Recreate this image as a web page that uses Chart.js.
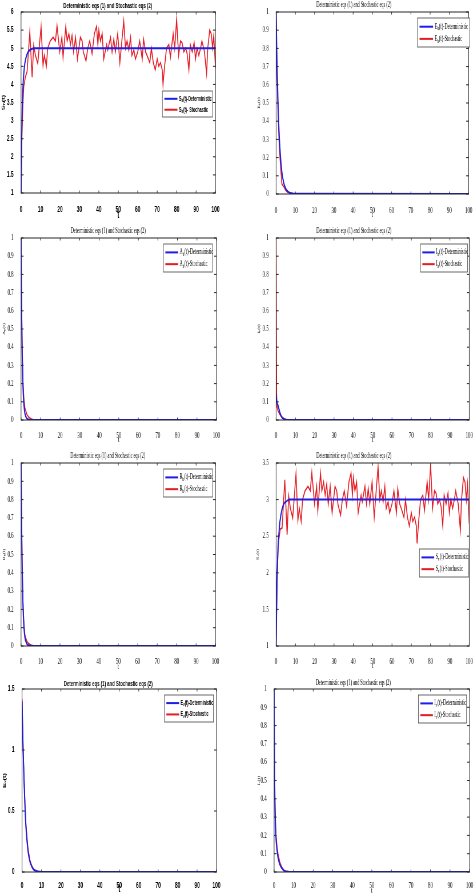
<!DOCTYPE html>
<html>
<head>
<meta charset="utf-8">
<script src="https://cdn.jsdelivr.net/npm/chart.js@4.4.1/dist/chart.umd.min.js"></script>
<style>
  body { margin: 0; background: #fff; width: 474px; height: 896px; overflow: hidden; position: relative; }
  .panel { position: absolute; transform-origin: 0 0; }
</style>
</head>
<body>
<div class="panel" id="p1"><canvas id="c1"></canvas></div>
<div class="panel" id="p2"><canvas id="c2"></canvas></div>
<div class="panel" id="p3"><canvas id="c3"></canvas></div>
<div class="panel" id="p4"><canvas id="c4"></canvas></div>
<div class="panel" id="p5"><canvas id="c5"></canvas></div>
<div class="panel" id="p6"><canvas id="c6"></canvas></div>
<div class="panel" id="p7"><canvas id="c7"></canvas></div>
<div class="panel" id="p8"><canvas id="c8"></canvas></div>
<script>
// time grids
var tGrid = [0, 0.25, 0.5, 1, 1.5, 2, 3, 4, 5, 6, 7, 8, 10, 100];
var tNoise = [0, 0.5, 1, 1.4, 2.2, 3.1, 4.5, 5.7, 6.5, 7.4, 8.6, 10.3, 11.3, 12, 13, 13.7, 15, 16.5, 17.7, 18.5,
  19.9, 21, 21.6, 23, 23.7, 24.6, 25.4, 26.2, 27, 28, 29, 30.5, 31.4, 32, 33.4, 34.3, 35.3, 36.5, 37.7, 38.8,
  39.5, 40, 40.8, 41.7, 42.5, 44, 44.6, 46, 46.8, 47.7, 48.5, 49.7, 50.8, 52, 52.8, 53.7, 54.5, 55.4, 56.3, 57,
  58, 58.8, 60, 61, 62.3, 63, 64, 64.8, 66.2, 67, 68, 69, 70, 70.8, 71.7, 72.6, 73, 73.8, 74.8, 76,
  76.8, 78.2, 79, 80, 81, 82, 82.8, 83.7, 84.6, 85.4, 86.3, 87, 88, 89, 89.7, 90.5, 91.4, 92.3, 93, 94.3,
  95.4, 96, 97, 97.8, 98.5, 99.1, 100];

// S_h
var shDet = [1, 2.2, 3.1, 3.95, 4.35, 4.6, 4.82, 4.92, 4.97, 4.99, 5, 5, 5, 5];
var shSto = [1, 2.7, 3.5, 3.94, 4.2, 4.35, 5.45, 4.2, 5.08, 4.8, 4.58, 5.59, 4.53, 4.8, 4.5, 5.0, 5.2, 5.3, 5.2, 5.62,
  4.9, 5.3, 4.75, 5.6, 5.2, 5.4, 5.1, 5.35, 4.9, 5.3, 4.7, 5.3, 5.2, 4.9, 4.65, 5.0, 5.2, 4.85, 5.4, 5.6,
  5.1, 5.5, 5.2, 5.4, 4.7, 5.1, 4.95, 5.3, 4.9, 5.25, 4.9, 5.4, 4.6, 5.3, 5.75, 5.0, 5.2, 4.95, 5.3, 4.8,
  4.95, 4.7, 4.9, 5.2, 4.7, 5.25, 4.9, 4.8, 4.6, 5.0, 4.6, 4.4, 4.7, 4.5, 4.6, 4.4, 4.0, 4.5, 5.0, 5.1,
  4.75, 5.4, 5.0, 5.8, 4.8, 5.2, 5.15, 4.9, 5.0, 4.85, 4.4, 5.1, 4.9, 5.15, 4.7, 5.0, 4.8, 5.0, 5.2, 4.9,
  4.3, 5.0, 5.5, 5.4, 5.0, 5.35, 4.45];
// E_h
var ehDet = [1, 0.84, 0.7, 0.5, 0.35, 0.25, 0.12, 0.06, 0.03, 0.015, 0.007, 0.004, 0.001, 0];
var ehSto = [1, 0.8, 0.64, 0.45, 0.3, 0.2, 0.055, 0.04, 0.02, 0.01, 0.005, 0.002, 0, 0];
// A_h
var ahDet = [1, 0.65, 0.42, 0.18, 0.08, 0.035, 0.008, 0.002, 0, 0, 0, 0, 0, 0];
var ahSto = [1, 0.68, 0.46, 0.21, 0.11, 0.065, 0.03, 0.015, 0.007, 0.002, 0, 0, 0, 0];
// I_h
var ihDet = [0.14, 0.11, 0.095, 0.08, 0.06, 0.04, 0.015, 0.005, 0.002, 0, 0, 0, 0, 0];
var ihSto = [1, 0.15, 0.07, 0.05, 0.04, 0.03, 0.015, 0.008, 0.003, 0.001, 0, 0, 0, 0];
// R_h
var rhDet = [1, 0.7, 0.48, 0.22, 0.1, 0.045, 0.012, 0.003, 0.001, 0, 0, 0, 0, 0];
var rhSto = [1, 0.72, 0.5, 0.24, 0.12, 0.06, 0.025, 0.012, 0.005, 0.002, 0, 0, 0, 0];
// S_v
var svDet = [1, 1.5, 1.9, 2.35, 2.55, 2.7, 2.86, 2.94, 2.97, 2.99, 3, 3, 3, 3];
var svSto = [1, 1.9, 2.3, 2.45, 2.6, 2.61, 3.27, 2.52, 3.05, 2.88, 2.75, 3.35, 2.72, 2.88, 2.7, 3.0, 3.12, 3.18, 3.12, 3.37,
  2.94, 3.18, 2.85, 3.36, 3.12, 3.24, 3.06, 3.21, 2.94, 3.18, 2.82, 3.18, 3.12, 2.94, 2.79, 3.0, 3.12, 2.91, 3.24, 3.36,
  3.06, 3.3, 3.12, 3.24, 2.82, 3.06, 2.97, 3.18, 2.94, 3.15, 2.94, 3.24, 2.76, 3.18, 3.45, 3.0, 3.12, 2.97, 3.18, 2.88,
  2.97, 2.82, 2.94, 3.12, 2.82, 3.15, 2.94, 2.88, 2.76, 3.0, 2.76, 2.64, 2.82, 2.7, 2.76, 2.64, 2.4, 2.7, 3.0, 3.06,
  2.85, 3.24, 3.0, 3.48, 2.88, 3.12, 3.09, 2.94, 3.0, 2.91, 2.64, 3.06, 2.94, 3.09, 2.82, 3.0, 2.88, 3.0, 3.12, 2.94,
  2.58, 3.0, 3.3, 3.24, 3.0, 3.21, 2.67];
// E_v
var evDet = [1.4, 1.2, 1.03, 0.76, 0.54, 0.37, 0.18, 0.09, 0.045, 0.02, 0.01, 0.005, 0.001, 0];
var evSto = [1.42, 1.22, 1.05, 0.78, 0.56, 0.39, 0.2, 0.1, 0.05, 0.022, 0.01, 0.004, 0, 0];
// I_v
var ivDet = [1, 0.55, 0.35, 0.18, 0.12, 0.08, 0.04, 0.02, 0.008, 0.003, 0.001, 0, 0, 0];
var ivSto = [1, 0.5, 0.3, 0.2, 0.14, 0.1, 0.05, 0.025, 0.01, 0.004, 0.002, 0, 0, 0];

var TITLE = 'Deterministic eqs (1) and Stochastic eqs (2)';
var SQ = 0.57; // the whole figure is squeezed horizontally
var COLW = 237;

var panels = [
  {id: 1, col: 0, top: 0, h: 225, box: [21, 12, 215, 193], sans: true, y: [1, 6, 0.5], name: 'S_h', yLab: 'Sₕ(t)',
   det: shDet, sto: shSto, tSto: tNoise, titleY: 6, yTitleX: 3.5, xTitleY: 215, xPad: 4, leg: [162, 91, 50, 26], stoSep: '- '},
  {id: 2, col: 1, top: 0, h: 225, box: [276, 12, 470, 194], sans: false, y: [0, 1, 0.1], name: 'E_h', yLab: 'Eₕ(t)',
   det: ehDet, sto: ehSto, tSto: tGrid, titleY: 5, yTitleX: 22, xTitleY: 215, xPad: 4, leg: [417, 18, 52, 29]},
  {id: 3, col: 0, top: 225, h: 225, box: [21, 238, 216, 420], sans: false, y: [0, 1, 0.1], name: 'A_h', yLab: 'Aₕ(t)',
   det: ahDet, sto: ahSto, tSto: tGrid, titleY: 231, yTitleX: 4.5, xTitleY: 440, xPad: 3, leg: [163, 244, 49, 28]},
  {id: 4, col: 1, top: 225, h: 225, box: [276, 238, 470, 420], sans: false, y: [0, 1, 0.1], name: 'I_h', yLab: 'Iₕ(t)',
   det: ihDet, sto: ihSto, tSto: tGrid, titleY: 231, yTitleX: 22, xTitleY: 440, xPad: 3, leg: [420, 244, 47, 28]},
  {id: 5, col: 0, top: 450, h: 225, box: [21, 463, 215, 646], sans: false, y: [0, 1, 0.1], name: 'R_h', yLab: 'Rₕ(t)',
   det: rhDet, sto: rhSto, tSto: tGrid, titleY: 456, yTitleX: 4.5, xTitleY: 667, xPad: 3, leg: [163, 469, 49, 28]},
  {id: 6, col: 1, top: 450, h: 225, box: [276, 463, 470, 646], sans: false, y: [1, 3.5, 0.5], name: 'S_v', yLab: 'Sᵥ(t)',
   det: svDet, sto: svSto, tSto: tNoise, titleY: 456, yTitleX: 21, xTitleY: 666, xPad: 3, leg: [419, 549, 49, 28]},
  {id: 7, col: 0, top: 675, h: 221, box: [22, 689, 216, 872], sans: true, y: [0, 1.5, 0.5], name: 'E_v', yLab: 'Eᵥ(t)',
   det: evDet, sto: evSto, tSto: tGrid, titleY: 684, yTitleX: 4.5, xTitleY: 893, xPad: 1, leg: [164, 695, 49, 27]},
  {id: 8, col: 1, top: 675, h: 221, box: [274, 689, 469, 872], sans: false, y: [0, 1, 0.1], name: 'I_v', yLab: 'Iᵥ(t)',
   det: ivDet, sto: ivSto, tSto: tGrid, titleY: 683, yTitleX: 22, xTitleY: 892, xPad: 1, leg: [418, 695, 48, 28]}
];

function pts(ts, vs) {
  return ts.map(function (t, i) { return {x: t, y: vs[i]}; });
}

// text with one subscript char after "_"
function subText(ctx, str, x, y, size, family, weight) {
  var parts = str.split('_');
  ctx.font = weight + ' ' + size + 'px ' + family;
  ctx.fillText(parts[0], x, y);
  x += ctx.measureText(parts[0]).width;
  if (parts.length > 1) {
    var sub = parts[1].charAt(0), rest = parts[1].slice(1);
    ctx.font = weight + ' ' + (size * 0.7) + 'px ' + family;
    ctx.fillText(sub, x, y + size * 0.3);
    x += ctx.measureText(sub).width + 0.5;
    ctx.font = weight + ' ' + size + 'px ' + family;
    ctx.fillText(rest, x, y);
  }
}

function makeFrame(p, family, weight) {
  return {
    id: 'frame' + p.id,
    afterDatasetsDraw: function (chart) {
      var a = chart.chartArea, ctx = chart.ctx;
      var xs = chart.scales.x, ys = chart.scales.y;
      ctx.save();
      ctx.strokeStyle = '#262626';
      ctx.lineWidth = 1;
      ctx.strokeRect(a.left, a.top, a.right - a.left, a.bottom - a.top);
      ctx.beginPath();
      xs.ticks.forEach(function (t) {
        var px = xs.getPixelForValue(t.value);
        ctx.moveTo(px, a.bottom); ctx.lineTo(px, a.bottom - 2.5);
        ctx.moveTo(px, a.top); ctx.lineTo(px, a.top + 2.5);
      });
      ys.ticks.forEach(function (t) {
        var py = ys.getPixelForValue(t.value);
        ctx.moveTo(a.left, py); ctx.lineTo(a.left + 2.5 / SQ, py);
        ctx.moveTo(a.right, py); ctx.lineTo(a.right - 2.5 / SQ, py);
      });
      ctx.stroke();

      // legend box
      var bx = (p.leg[0] - p.col * COLW) / SQ, by = p.leg[1] - p.top;
      var bw = p.leg[2] / SQ, bh = p.leg[3];
      ctx.fillStyle = '#fff';
      ctx.fillRect(bx, by, bw, bh);
      ctx.strokeStyle = '#444';
      ctx.lineWidth = 0.8;
      ctx.strokeRect(bx, by, bw, bh);
      var rows = [by + bh * 0.3, by + bh * 0.72];
      var ds = chart.data.datasets;
      for (var i = 0; i < 2; i++) {
        ctx.strokeStyle = ds[i].borderColor;
        ctx.lineWidth = 2;
        ctx.beginPath();
        ctx.moveTo(bx + bw * 0.04, rows[i]);
        ctx.lineTo(bx + bw * 0.3, rows[i]);
        ctx.stroke();
        ctx.fillStyle = '#000';
        ctx.textBaseline = 'middle';
        ctx.textAlign = 'left';
        subText(ctx, ds[i].label, bx + bw * 0.33, rows[i], p.sans ? 6.5 : 7.5, family, weight);
      }
      ctx.restore();
    }
  };
}

function tickLabel(v) {
  return String(Number(v.toFixed(3)));
}

panels.forEach(function (p) {
  var div = document.getElementById('p' + p.id);
  div.style.left = (p.col * COLW) + 'px';
  div.style.top = p.top + 'px';
  div.style.width = (COLW / SQ) + 'px';
  div.style.height = p.h + 'px';
  div.style.transform = 'scaleX(' + SQ + ')';

  var family = p.sans ? "'Liberation Sans', Arial, sans-serif" : "'Liberation Serif', 'Times New Roman', serif";
  var weight = p.sans ? 'bold' : 'normal';
  var yW = (p.box[0] - p.col * COLW) / SQ;
  var padRight = ((p.col + 1) * COLW - p.box[2]) / SQ;
  var topSpace = p.box[1] - p.top;
  var bottomSpace = p.top + p.h - p.box[3];

  var titleSize = 7.5;
  var tlh = titleSize * 1.2;
  var tTop = Math.max(0, (p.titleY - p.top) - tlh / 2);
  var tBottom = Math.max(0, topSpace - tTop - tlh);

  var ySize = p.sans ? 7.5 : 6;
  var yPad = Math.max(0, p.yTitleX / SQ - ySize * 1.2 / 2);
  var xSize = p.sans ? 11 : 8.5;
  var xPb = Math.max(0, (p.top + p.h - p.xTitleY) - xSize * 1.2 / 2);
  var tickFont = {family: family, size: 8.5, weight: weight, lineHeight: 1.2};

  var stoLabel = p.name + '(t)' + (p.stoSep || '-') + 'Stochastic';

  new Chart(document.getElementById('c' + p.id), {
    type: 'line',
    data: {
      datasets: [{
        label: p.name + '(t)-Deterministic',
        data: pts(tGrid, p.det),
        borderColor: 'rgb(30, 30, 230)',
        borderWidth: 2,
        pointRadius: 0,
        cubicInterpolationMode: 'monotone'
      }, {
        label: stoLabel,
        data: pts(p.tSto, p.sto),
        borderColor: 'rgb(228, 28, 36)',
        borderWidth: 1.6,
        pointRadius: 0
      }]
    },
    options: {
      responsive: true,
      maintainAspectRatio: false,
      animation: false,
      layout: {padding: {left: 0, right: padRight, top: 0, bottom: 0}},
      plugins: {
        legend: {display: false},
        tooltip: {enabled: false},
        title: {
          display: true, text: TITLE, color: '#000',
          font: {family: family, size: titleSize, weight: weight, lineHeight: 1.2},
          padding: {top: tTop, bottom: tBottom}
        }
      },
      scales: {
        x: {
          type: 'linear', min: 0, max: 100,
          grid: {display: false}, border: {display: false},
          ticks: {stepSize: 10, color: '#000', font: tickFont, padding: p.xPad, maxRotation: 0, autoSkip: false,
                  callback: tickLabel},
          title: {display: true, text: 't', color: '#000',
                  font: {family: family, size: xSize, weight: weight, lineHeight: 1.2},
                  padding: {top: 0, bottom: xPb}},
          afterFit: function (s) { s.height = bottomSpace; }
        },
        y: {
          min: p.y[0], max: p.y[1],
          grid: {display: false}, border: {display: false},
          ticks: {stepSize: p.y[2], color: '#000', font: tickFont, padding: 5, autoSkip: false,
                  callback: tickLabel},
          title: {display: true, text: p.yLab, color: '#000',
                  font: {family: family, size: ySize, weight: weight, lineHeight: 1.2},
                  padding: {top: yPad, bottom: 0}},
          afterFit: function (s) { s.width = yW; }
        }
      }
    },
    plugins: [makeFrame(p, family, weight)]
  });
});
</script>
</body>
</html>
